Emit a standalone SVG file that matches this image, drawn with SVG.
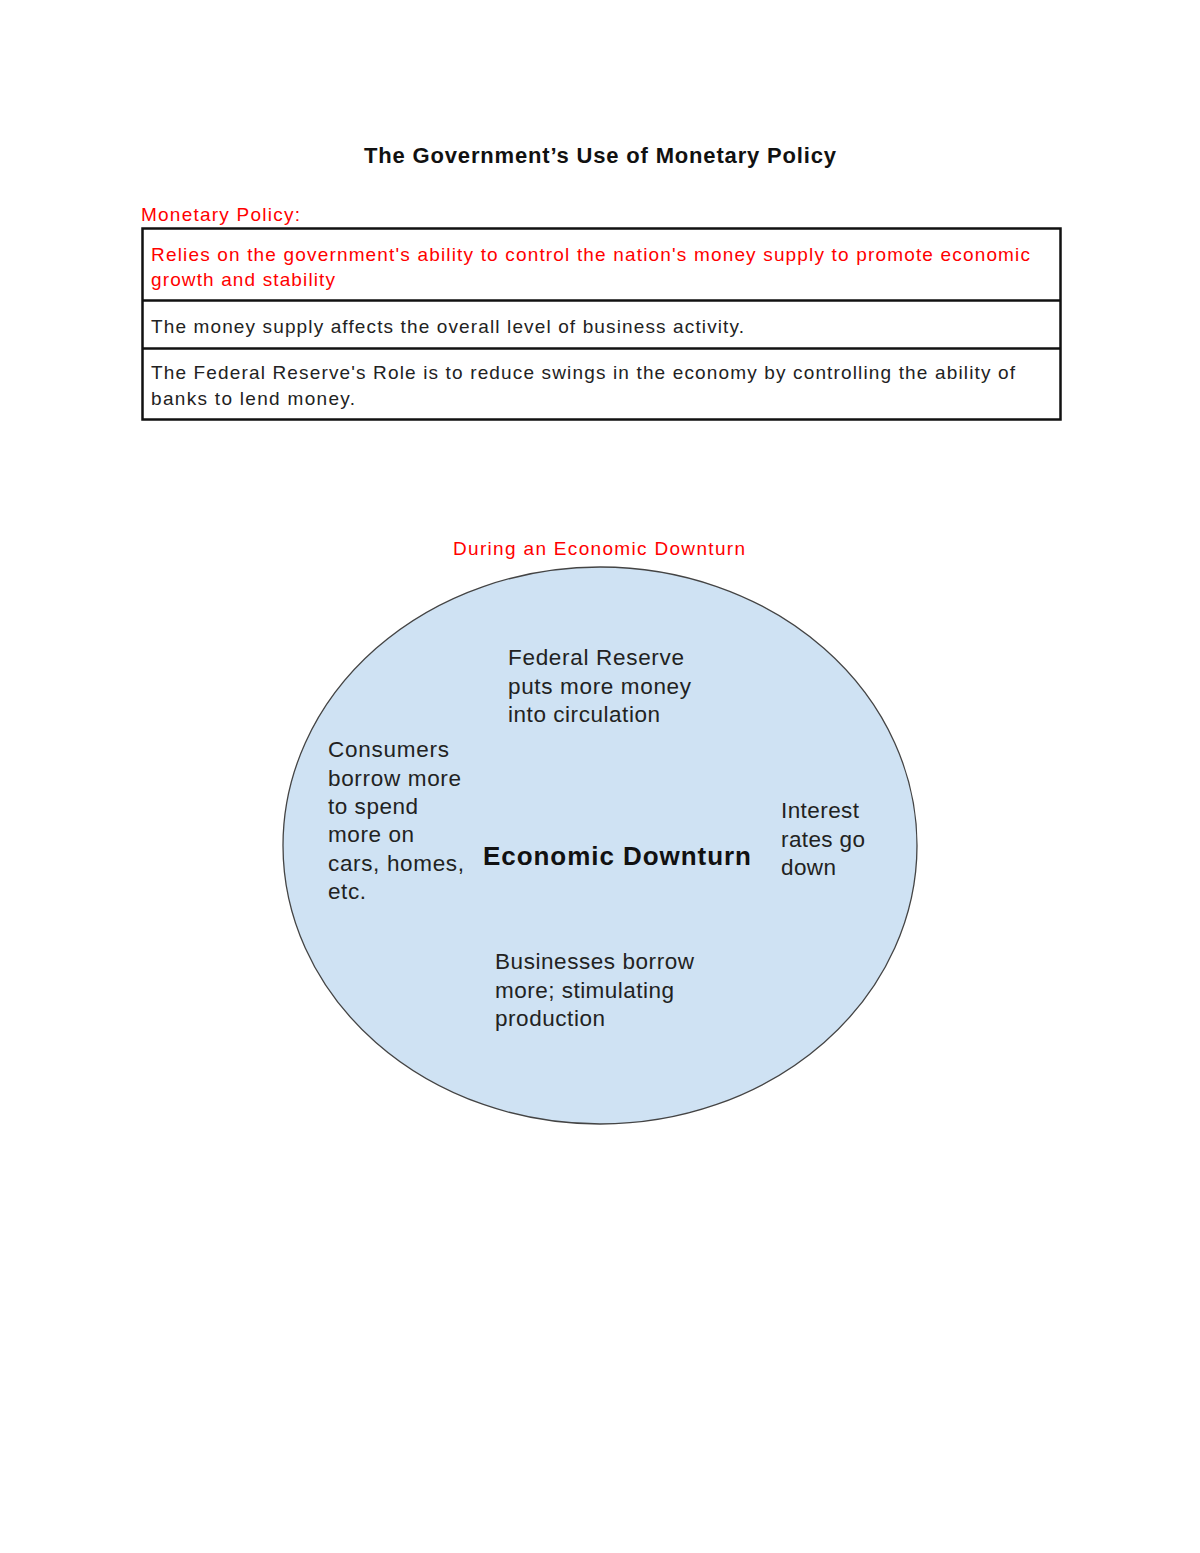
<svg xmlns="http://www.w3.org/2000/svg" width="1200" height="1553" viewBox="0 0 1200 1553">
<style>
text{font-family:"Liberation Sans",Arial,sans-serif;}
.t{font-size:19px;fill:#222;}
.r{font-size:19px;fill:#ff0000;}
.c{font-size:22.5px;fill:#222;}
.cell{fill:none;stroke:#111;stroke-width:2.5;}
</style>
<rect width="1200" height="1553" fill="#fff"/>
<g id="title"><text x="364" y="163" font-size="22" font-weight="bold" fill="#111" textLength="472">The Government’s Use of Monetary Policy</text></g>
<g id="mp-label"><text class="r" x="141" y="221" textLength="159">Monetary Policy:</text></g>
<g id="table">
<rect class="cell" x="142.5" y="228.5" width="918" height="191"/>
<line class="cell" x1="142.5" y1="300.5" x2="1060.5" y2="300.5"/>
<line class="cell" x1="142.5" y1="348.5" x2="1060.5" y2="348.5"/>
<text class="r" x="151" y="261" textLength="879">Relies on the government's ability to control the nation's money supply to promote economic</text>
<text class="r" x="151" y="286" textLength="184">growth and stability</text>
<text class="t" x="151" y="333" textLength="593">The money supply affects the overall level of business activity.</text>
<text class="t" x="151" y="379" textLength="864">The Federal Reserve's Role is to reduce swings in the economy by controlling the ability of</text>
<text class="t" x="151" y="405" textLength="204">banks to lend money.</text>
</g>
<g id="downturn-label"><text class="r" x="453" y="555" textLength="292">During an Economic Downturn</text></g>
<g id="circle">
<ellipse cx="600" cy="845.5" rx="317" ry="278.5" fill="#cfe2f3" stroke="#444" stroke-width="1.3"/>
<text x="483" y="865" font-size="26" font-weight="bold" fill="#111" textLength="268">Economic Downturn</text>
</g>
<g id="fed"><text class="c" x="508" y="665" textLength="176">Federal Reserve</text><text class="c" x="508" y="694" textLength="183">puts more money</text><text class="c" x="508" y="722" textLength="152">into circulation</text></g>
<g id="consumers"><text class="c" x="328" y="757" textLength="121">Consumers</text><text class="c" x="328" y="786" textLength="133">borrow more</text><text class="c" x="328" y="814" textLength="90">to spend</text><text class="c" x="328" y="842" textLength="86">more on</text><text class="c" x="328" y="871" textLength="136">cars, homes,</text><text class="c" x="328" y="899" textLength="38">etc.</text></g>
<g id="interest"><text class="c" x="781" y="818" textLength="78">Interest</text><text class="c" x="781" y="847" textLength="84">rates go</text><text class="c" x="781" y="875" textLength="55">down</text></g>
<g id="business"><text class="c" x="495" y="969" textLength="199">Businesses borrow</text><text class="c" x="495" y="998" textLength="179">more; stimulating</text><text class="c" x="495" y="1026" textLength="110">production</text></g>
<g id="connectors"></g>
</svg>
